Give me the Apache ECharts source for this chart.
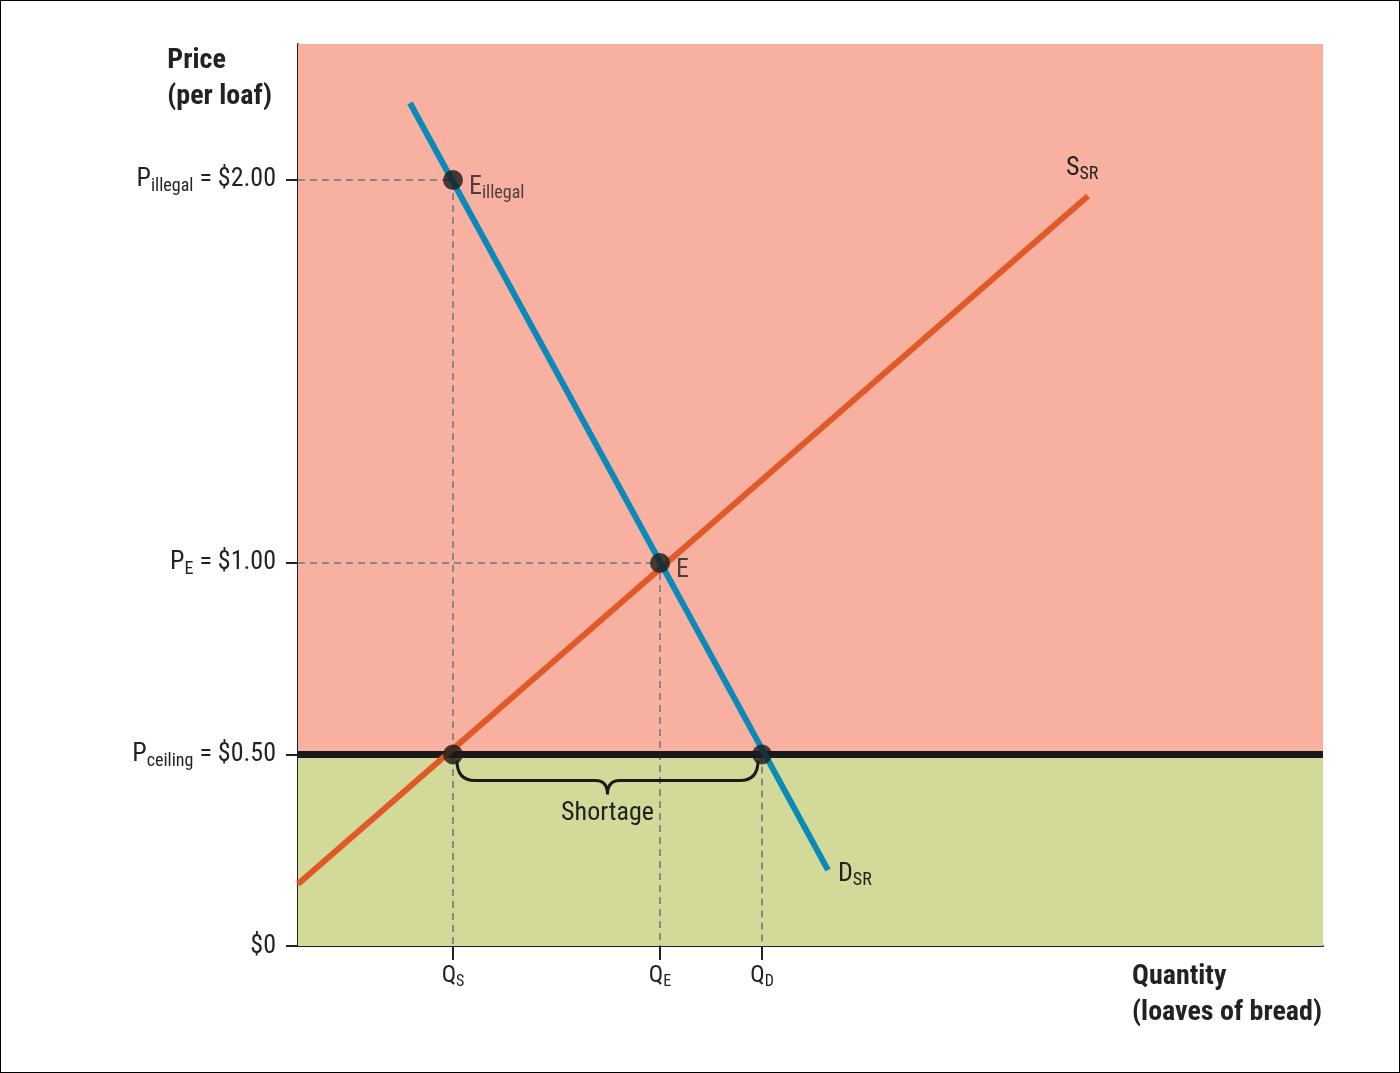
<!DOCTYPE html>
<html><head><meta charset="utf-8">
<script src="https://cdn.jsdelivr.net/npm/echarts@6/dist/echarts.min.js"></script>
<style>html,body{margin:0;padding:0;background:#fff}#c{width:1398px;height:1071px;border:1px solid #000}</style>
</head><body><div id="c"></div>
<script>
const FONT = '"Liberation Sans Narrow","Roboto Condensed","Liberation Sans",sans-serif';
const priceTicks = [0, 0.5, 1.0, 2.0];
const priceLabels = ['$0', 'P{s|ceiling} = $0.50', 'P{s|E} = $1.00', 'P{s|illegal} = $2.00'];
const qTicks = [155, 362, 464];
const qLabels = ['Q{s|S}', 'Q{s|E}', 'Q{s|D}'];
const demand = [[112, 2.201], [530, 0.198]];
const supply = [[0, 0.162], [790, 1.958]];
const ceiling = 0.5;
const points = [[155, 2.0], [362, 1.0], [155, 0.5], [464, 0.5]];
const pointNames = ['E{s|illegal}', 'E', '', ''];
const shortage = [155, 464, 0.5];

const dash = {color: '#888', type: [7, 5], width: 2};
const chart = echarts.init(document.getElementById('c'));
chart.setOption({
  animation: false,
  textStyle: {fontFamily: FONT},
  grid: {left: 297, right: 76, top: 43, bottom: 126},
  xAxis: {type: 'value', min: 0, max: 1025,
    axisLine: {show: true, lineStyle: {color: '#222', width: 2}},
    splitLine: {show: false},
    axisTick: {show: true, customValues: qTicks, length: 14, lineStyle: {color: '#222', width: 2}},
    axisLabel: {customValues: qTicks, margin: 16, fontSize: 24, color: '#222', fontFamily: FONT,
      formatter: v => qLabels[qTicks.indexOf(v)],
      rich: {s: {fontSize: 16, verticalAlign: 'bottom', padding: [12, 0, 0, 0], fontFamily: FONT}}}},
  yAxis: {type: 'value', min: 0, max: 2.355,
    axisLine: {show: true, lineStyle: {color: '#222', width: 2}},
    splitLine: {show: false},
    axisTick: {show: true, customValues: priceTicks, length: 12, lineStyle: {color: '#222', width: 2}},
    axisLabel: {customValues: priceTicks, margin: 22, fontSize: 26, color: '#222', fontFamily: FONT,
      formatter: v => priceLabels[priceTicks.indexOf(v)],
      rich: {s: {fontSize: 18, verticalAlign: 'bottom', padding: [14, 0, 0, 0], fontFamily: FONT}}}},
  graphic: [
    {type: 'text', right: 1400 - 273, top: 42, style: {text: 'Price\n(per loaf)', align: 'right', font: 'bold 28px ' + FONT, fill: '#222', lineHeight: 36}},
    {type: 'text', right: 77, top: 958, style: {text: 'Quantity\n(loaves of bread)', align: 'right', font: 'bold 28px ' + FONT, fill: '#222', lineHeight: 36}}
  ],
  series: [
    {type: 'line', data: [], markArea: {silent: true, data: [
      [{yAxis: ceiling, itemStyle: {color: '#F8B0A0'}}, {yAxis: 2.355}],
      [{yAxis: 0, itemStyle: {color: '#D3D998'}}, {yAxis: ceiling}]]}},
    {type: 'line', data: [[0, points[0][1]], points[0], [points[0][0], 0]], symbol: 'none', lineStyle: dash, z: 3},
    {type: 'line', data: [[0, points[1][1]], points[1], [points[1][0], 0]], symbol: 'none', lineStyle: dash, z: 3},
    {type: 'line', data: [points[3], [points[3][0], 0]], symbol: 'none', lineStyle: dash, z: 3},
    {type: 'line', data: [[0, ceiling], [1025, ceiling]], symbol: 'none', lineStyle: {color: '#1a1a1a', width: 7}, z: 4},
    {type: 'line', data: supply, symbol: 'none', lineStyle: {color: '#E05A28', width: 6}, z: 5,
      endLabel: {show: true, formatter: 'S{s|SR}', offset: [-30, -28], fontSize: 26, color: '#222', fontFamily: FONT,
        rich: {s: {fontSize: 18, verticalAlign: 'bottom', padding: [12, 0, 0, 0], fontFamily: FONT}}}},
    {type: 'line', data: demand, symbol: 'none', lineStyle: {color: '#0A8AB8', width: 6}, z: 6,
      endLabel: {show: true, formatter: 'D{s|SR}', offset: [2, 4], fontSize: 26, color: '#222', fontFamily: FONT,
        rich: {s: {fontSize: 18, verticalAlign: 'bottom', padding: [12, 0, 0, 0], fontFamily: FONT}}}},
    {type: 'scatter', data: points, symbolSize: 20, itemStyle: {color: '#1a1a1a'}, z: 8,
      label: {show: true, position: 'right', distance: 6, offset: [0, 8], fontSize: 26, color: '#222', fontFamily: FONT,
        formatter: p => pointNames[p.dataIndex],
        rich: {s: {fontSize: 18, verticalAlign: 'bottom', padding: [12, 0, 0, 0], fontFamily: FONT}}}},
    {type: 'custom', z: 9, data: [shortage],
      renderItem: (params, api) => {
        const a = api.coord([api.value(0), api.value(2)]);
        const b = api.coord([api.value(1), api.value(2)]);
        const y0 = a[1] + 6, y1 = y0 + 20, m = (a[0] + b[0]) / 2, r = 12;
        const x0 = a[0] + 4, x1 = b[0] - 4;
        const path = `M${x0},${y0} Q${x0},${y1} ${x0 + r * 1.5},${y1} L${m - r},${y1} Q${m},${y1} ${m},${y1 + 14} Q${m},${y1} ${m + r},${y1} L${x1 - r * 1.5},${y1} Q${x1},${y1} ${x1},${y0}`;
        return {type: 'group', children: [
          {type: 'path', shape: {pathData: path}, style: {stroke: '#1a1a1a', lineWidth: 3, fill: null}},
          {type: 'text', style: {text: 'Shortage', x: m, y: y1 + 20, align: 'center', verticalAlign: 'top', font: '26px ' + FONT, fill: '#222'}}
        ]};
      }}
  ]
});
</script></body></html>
